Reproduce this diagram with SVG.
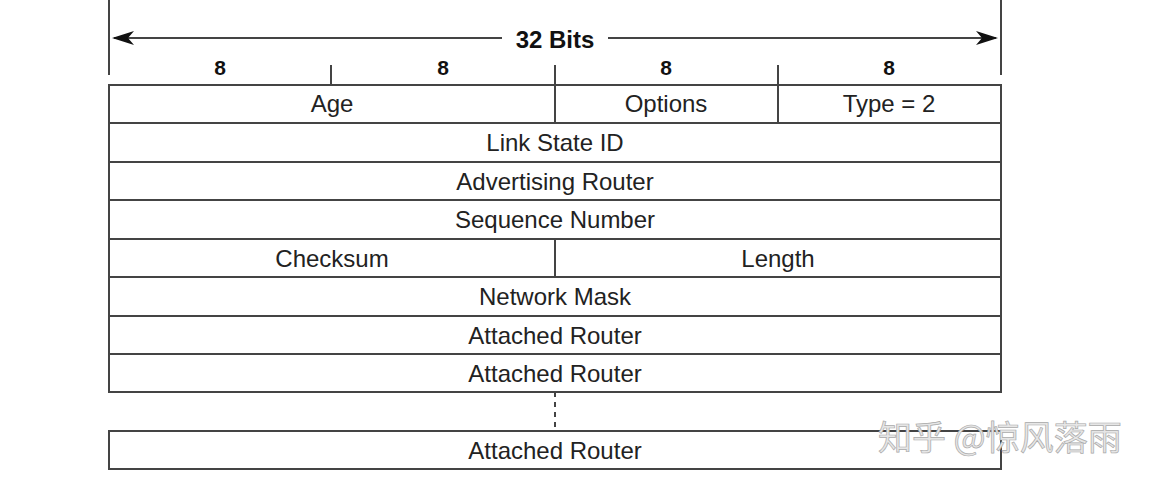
<svg xmlns="http://www.w3.org/2000/svg" width="1157" height="485" viewBox="0 0 1157 485">
<style>
.ln{stroke:#444;stroke-width:2;fill:none}
.box{stroke:#444;stroke-width:2;fill:#fff}
.t{font-family:"Liberation Sans",Arial,sans-serif;font-size:24px;fill:#222;text-anchor:middle}
.b{font-family:"Liberation Sans",Arial,sans-serif;font-size:21px;font-weight:bold;fill:#111;text-anchor:middle}
.b2{font-family:"Liberation Sans",Arial,sans-serif;font-size:24px;font-weight:bold;fill:#111;text-anchor:middle}
.wm{font-family:"Noto Sans CJK SC",sans-serif;font-size:34px;fill:#e6e6e6;stroke:#aaa;stroke-width:0.7}
</style>
<defs>
<marker id="ah" markerWidth="22" markerHeight="14" refX="20" refY="7" orient="auto-start-reverse" markerUnits="userSpaceOnUse">
<path d="M0,0 L22,7 L0,14 L6,7 Z" fill="#111"/>
</marker>
</defs>
<rect width="1157" height="485" fill="#fff"/>
<g id="connectors">
<line class="ln" x1="109" y1="0" x2="109" y2="75"/>
<line class="ln" x1="1001" y1="0" x2="1001" y2="75"/>
<line class="ln" x1="502" y1="38" x2="114" y2="38" marker-end="url(#ah)"/>
<line class="ln" x1="608" y1="38" x2="996" y2="38" marker-end="url(#ah)"/>
<line class="ln" x1="331" y1="65" x2="331" y2="85"/>
<line class="ln" x1="555" y1="65" x2="555" y2="85"/>
<line class="ln" x1="778" y1="65" x2="778" y2="85"/>
<line class="ln" x1="555" y1="392" x2="555" y2="431" stroke-dasharray="5,5"/>
</g>
<g id="header">
<text class="b2" x="555" y="48">32 Bits</text>
<text class="b" x="220" y="75">8</text>
<text class="b" x="443" y="75">8</text>
<text class="b" x="666" y="75">8</text>
<text class="b" x="889" y="75">8</text>
</g>
<g id="row-age">
<rect class="box" x="109" y="85" width="892" height="38"/>
<line class="ln" x1="555" y1="85" x2="555" y2="123"/>
<line class="ln" x1="778" y1="85" x2="778" y2="123"/>
<text class="t" x="332" y="112">Age</text>
<text class="t" x="666" y="112">Options</text>
<text class="t" x="889" y="112">Type = 2</text>
</g>
<g id="row-lsid">
<rect class="box" x="109" y="123" width="892" height="39"/>
<text class="t" x="555" y="151">Link State ID</text>
</g>
<g id="row-adv">
<rect class="box" x="109" y="162" width="892" height="38"/>
<text class="t" x="555" y="190">Advertising Router</text>
</g>
<g id="row-seq">
<rect class="box" x="109" y="200" width="892" height="39"/>
<text class="t" x="555" y="228">Sequence Number</text>
</g>
<g id="row-checksum">
<rect class="box" x="109" y="239" width="892" height="38"/>
<line class="ln" x1="555" y1="239" x2="555" y2="277"/>
<text class="t" x="332" y="267">Checksum</text>
<text class="t" x="778" y="267">Length</text>
</g>
<g id="row-mask">
<rect class="box" x="109" y="277" width="892" height="39"/>
<text class="t" x="555" y="305">Network Mask</text>
</g>
<g id="row-ar1">
<rect class="box" x="109" y="316" width="892" height="38"/>
<text class="t" x="555" y="344">Attached Router</text>
</g>
<g id="row-ar2">
<rect class="box" x="109" y="354" width="892" height="38"/>
<text class="t" x="555" y="382">Attached Router</text>
</g>
<g id="row-ar3">
<rect class="box" x="109" y="431" width="892" height="38"/>
<text class="t" x="555" y="459">Attached Router</text>
</g>
<g id="watermark">
<text class="wm" x="878" y="450">知乎 @惊风落雨</text>
</g>
</svg>
